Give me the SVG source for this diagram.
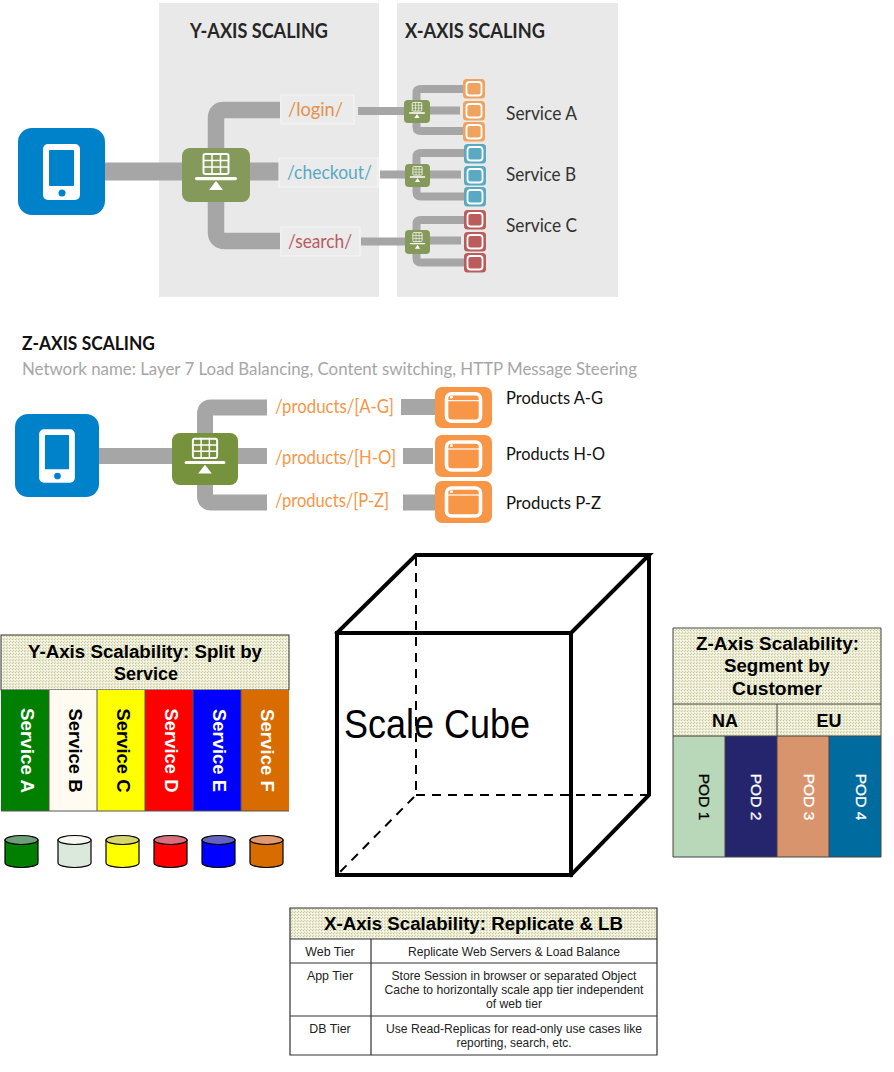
<svg xmlns="http://www.w3.org/2000/svg" xmlns:xlink="http://www.w3.org/1999/xlink" width="894" height="1072" viewBox="0 0 894 1072">
<style>
text{font-family:"Liberation Sans",Arial,sans-serif}
.cal{font-family:Lato,"Open Sans",sans-serif}
.h{font-weight:700;fill:#262626;font-size:20px}
.svc{fill:#333;font-size:18.500px}
.prod{fill:#111;font-size:17px}
.o{fill:#f79646}
.lbl{font-size:19px}
.pipe{fill:none;stroke:#a6a6a6;stroke-linejoin:round}
.box{fill:#ebebeb;stroke:#f6f6f6}
.t{font-weight:700;font-size:18px;text-anchor:middle;fill:#000}
.sv{font-weight:700;font-size:18px;text-anchor:middle}
.pod{font-size:15.500px;text-anchor:middle;stroke-width:.3px}
.r{font-size:12.400px;text-anchor:middle;fill:#222}
.line{stroke:#333;stroke-width:1.500;fill:none}
.cube{stroke:#000;stroke-width:4;fill:none;stroke-linecap:square}
.dash{stroke:#000;stroke-width:2;fill:none;stroke-dasharray:9 7}
.cyl{stroke:#000;stroke-width:1.200}
</style>
<defs>
<pattern id="dither" width="3" height="3" patternUnits="userSpaceOnUse">
<rect width="3" height="3" fill="#eeeed6"/>
<rect x="0" y="0" width="1" height="1" fill="#c6c69a"/>
<rect x="2" y="1" width="1" height="1" fill="#ffffff"/>
<rect x="1" y="2" width="1" height="1" fill="#d2d2aa"/>
</pattern>
<symbol id="lbGlyph" viewBox="0 0 68 54" preserveAspectRatio="none">
<rect x="21.500" y="6" width="25" height="20" rx="2" fill="none" stroke="#fff" stroke-width="2"/>
<path d="M21 12.500H47M21 19H47M30 5V26M38.500 5V26" stroke="#fff" stroke-width="1.500" fill="none"/>
<rect x="13" y="29" width="42" height="3.200" rx="1.600" fill="#fff"/>
<path d="M34 33L41 42H27Z" fill="#fff"/>
</symbol>
<symbol id="phone" viewBox="0 0 87 87" preserveAspectRatio="none">
<rect x="25" y="16" width="37" height="56" rx="5" fill="#fff"/>
<rect x="31" y="22" width="25" height="36" rx="1" fill="#0082ca"/>
<circle cx="44" cy="65" r="3.500" fill="#0082ca"/>
</symbol>
<symbol id="win" viewBox="0 0 57 42" preserveAspectRatio="none">
<rect x="11.500" y="7" width="34" height="28" rx="5" fill="none" stroke="#fff" stroke-width="3.600"/>
<path d="M13 14H44" stroke="#fff" stroke-width="1.200"/>
<circle cx="16.500" cy="10.500" r="1.500" fill="#fff"/>
</symbol>
</defs>

<g id="panel-y"><rect x="159" y="3" width="220" height="294" fill="#e9e9e9"/><text class="cal h" x="190" y="38" textLength="138" lengthAdjust="spacingAndGlyphs">Y-AXIS SCALING</text></g>
<g id="panel-x"><rect x="397" y="3" width="221" height="294" fill="#e9e9e9"/><text class="cal h" x="405" y="38" textLength="140" lengthAdjust="spacingAndGlyphs">X-AXIS SCALING</text></g>

<g id="connectors">
<path class="pipe" stroke-width="18" d="M105 171.500H190"/>
<path class="pipe" stroke-width="16.500" d="M280 110H224Q216 110 216 118V232Q216 241 225 241H280"/>
<path class="pipe" stroke-width="18" d="M245 171.500H279"/>
<path class="pipe" stroke-width="8" d="M358 111H410M380 174.500H410M361 241.500H410"/>
<path class="pipe" stroke-width="8" d="M464 89H421Q416.500 89 416.500 93V127Q416.500 131 421 131H464M425 110.500H460"/>
<path class="pipe" stroke-width="8" d="M465 153H421Q416.500 153 416.500 157V192Q416.500 196.500 421 196.500H465M425 174.500H461"/>
<path class="pipe" stroke-width="8" d="M465 220H421Q416.500 220 416.500 224V258Q416.500 262.500 421 262.500H465M425 240.500H461"/>
<path class="pipe" stroke-width="16" d="M99 456H180"/>
<path class="pipe" stroke-width="16" d="M267 407.500H211Q205 407.500 205 414V496Q205 502.500 211 502.500H267M230 456H267"/>
<path class="pipe" stroke-width="16" d="M401 407H437M403 456H433M403 502.500H437"/>
</g>

<g id="phone-top"><rect x="18" y="128" width="87" height="87" rx="14" fill="#0082ca"/><use xlink:href="#phone" href="#phone" x="18" y="128" width="87" height="87"/></g>
<g id="lb-y"><rect x="182" y="148" width="68" height="54" rx="8" fill="#85995a"/><use xlink:href="#lbGlyph" href="#lbGlyph" x="182" y="148" width="68" height="54"/></g>

<g id="route-login"><rect class="box" x="281" y="95" width="73" height="29"/><text class="cal lbl" x="288" y="116" fill="#e3914f" textLength="55" lengthAdjust="spacingAndGlyphs">/login/</text></g>
<g id="route-checkout"><rect class="box" x="279" y="158" width="99" height="29"/><text class="cal lbl" x="287" y="179" fill="#5aa9c2" textLength="85" lengthAdjust="spacingAndGlyphs">/checkout/</text></g>
<g id="route-search"><rect class="box" x="281" y="227" width="79" height="29"/><text class="cal lbl" x="288" y="248" fill="#b85c5c" textLength="64" lengthAdjust="spacingAndGlyphs">/search/</text></g>

<g id="lb-a"><rect x="404" y="100" width="26" height="23" rx="4" fill="#85995a"/><use xlink:href="#lbGlyph" href="#lbGlyph" x="404" y="100" width="26" height="23"/></g>
<g id="lb-b"><rect x="405" y="164" width="25" height="23" rx="4" fill="#85995a"/><use xlink:href="#lbGlyph" href="#lbGlyph" x="405" y="164" width="25" height="23"/></g>
<g id="lb-c"><rect x="405" y="230" width="25" height="24" rx="4" fill="#85995a"/><use xlink:href="#lbGlyph" href="#lbGlyph" x="405" y="230" width="25" height="24"/></g>

<g id="service-a">
<rect x="463" y="79" width="22" height="19.500" rx="3.500" fill="#f0a35e"/><rect x="466.500" y="82" width="15" height="13.500" rx="3" fill="#f0a35e" stroke="#fff" stroke-width="1.800"/>
<rect x="463" y="101" width="22" height="19.500" rx="3.500" fill="#f0a35e"/><rect x="466.500" y="104" width="15" height="13.500" rx="3" fill="#f0a35e" stroke="#fff" stroke-width="1.800"/>
<rect x="463" y="122" width="22" height="19.500" rx="3.500" fill="#f0a35e"/><rect x="466.500" y="125" width="15" height="13.500" rx="3" fill="#f0a35e" stroke="#fff" stroke-width="1.800"/>
<text class="cal svc" x="506" y="120" textLength="71" lengthAdjust="spacingAndGlyphs">Service A</text>
</g>
<g id="service-b">
<rect x="464" y="144" width="22" height="19.500" rx="3.500" fill="#5aa9c2"/><rect x="467.500" y="147" width="15" height="13.500" rx="3" fill="#5aa9c2" stroke="#fff" stroke-width="1.800"/>
<rect x="464" y="166" width="22" height="19.500" rx="3.500" fill="#5aa9c2"/><rect x="467.500" y="169" width="15" height="13.500" rx="3" fill="#5aa9c2" stroke="#fff" stroke-width="1.800"/>
<rect x="464" y="187" width="22" height="19.500" rx="3.500" fill="#5aa9c2"/><rect x="467.500" y="190" width="15" height="13.500" rx="3" fill="#5aa9c2" stroke="#fff" stroke-width="1.800"/>
<text class="cal svc" x="506" y="181" textLength="70" lengthAdjust="spacingAndGlyphs">Service B</text>
</g>
<g id="service-c">
<rect x="464" y="210" width="22" height="19.500" rx="3.500" fill="#bc5b5b"/><rect x="467.500" y="213" width="15" height="13.500" rx="3" fill="#bc5b5b" stroke="#fff" stroke-width="1.800"/>
<rect x="464" y="232" width="22" height="19.500" rx="3.500" fill="#bc5b5b"/><rect x="467.500" y="235" width="15" height="13.500" rx="3" fill="#bc5b5b" stroke="#fff" stroke-width="1.800"/>
<rect x="464" y="253" width="22" height="19.500" rx="3.500" fill="#bc5b5b"/><rect x="467.500" y="256" width="15" height="13.500" rx="3" fill="#bc5b5b" stroke="#fff" stroke-width="1.800"/>
<text class="cal svc" x="506" y="232" textLength="71" lengthAdjust="spacingAndGlyphs">Service C</text>
</g>

<g id="z-heading">
<text class="cal" x="22" y="350" font-size="18" font-weight="700" fill="#111" textLength="133" lengthAdjust="spacingAndGlyphs">Z-AXIS SCALING</text>
<text class="cal" x="22" y="375" font-size="17" fill="#a6a6a6" textLength="615" lengthAdjust="spacingAndGlyphs">Network name: Layer 7 Load Balancing, Content switching, HTTP Message Steering</text>
</g>

<g id="phone-z"><rect x="15" y="414" width="84" height="83" rx="13" fill="#0082ca"/><use xlink:href="#phone" href="#phone" x="15" y="414" width="84" height="83"/></g>
<g id="lb-z"><rect x="172" y="433" width="66" height="52" rx="8" fill="#76923c"/><use xlink:href="#lbGlyph" href="#lbGlyph" x="172" y="433" width="66" height="52"/></g>

<g id="route-ag"><text class="cal lbl o" x="275" y="413" textLength="119" lengthAdjust="spacingAndGlyphs">/products/[A-G]</text></g>
<g id="route-ho"><text class="cal lbl o" x="275" y="464" textLength="121" lengthAdjust="spacingAndGlyphs">/products/[H-O]</text></g>
<g id="route-pz"><text class="cal lbl o" x="275" y="507" textLength="114" lengthAdjust="spacingAndGlyphs">/products/[P-Z]</text></g>

<g id="products-ag"><rect x="435" y="387" width="57" height="41" rx="7" fill="#f79646"/><use xlink:href="#win" href="#win" x="435" y="387" width="57" height="41"/><text class="cal prod" x="506" y="404" textLength="97" lengthAdjust="spacingAndGlyphs">Products A-G</text></g>
<g id="products-ho"><rect x="435" y="435" width="57" height="42" rx="7" fill="#f79646"/><use xlink:href="#win" href="#win" x="435" y="435" width="57" height="42"/><text class="cal prod" x="506" y="460" textLength="99" lengthAdjust="spacingAndGlyphs">Products H-O</text></g>
<g id="products-pz"><rect x="435" y="481" width="57" height="42" rx="7" fill="#f79646"/><use xlink:href="#win" href="#win" x="435" y="481" width="57" height="42"/><text class="cal prod" x="506" y="509" textLength="95" lengthAdjust="spacingAndGlyphs">Products P-Z</text></g>

<g id="y-table">
<rect x="1" y="635" width="288" height="55" fill="url(#dither)" stroke="#333" stroke-width="1"/>
<text class="t" x="145" y="658" textLength="234" lengthAdjust="spacingAndGlyphs">Y-Axis Scalability: Split by</text>
<text class="t" x="146" y="680">Service</text>
<rect x="1" y="690" width="48" height="121" fill="#007f00"/>
<rect x="49" y="690" width="48" height="121" fill="#fffbf0"/>
<rect x="97" y="690" width="48" height="121" fill="#ffff00"/>
<rect x="145" y="690" width="48" height="121" fill="#ff0000"/>
<rect x="193" y="690" width="48" height="121" fill="#0000ff"/>
<rect x="241" y="690" width="48" height="121" fill="#d96c00"/>
<path d="M49 690V811M97 690V811M145 690V811M193 690V811M241 690V811M1 811H289" stroke="#555" stroke-width="1" fill="none"/>
<text class="sv" fill="#fff" transform="translate(21 750.500) rotate(90)" textLength="85" lengthAdjust="spacingAndGlyphs">Service A</text>
<text class="sv" fill="#000" transform="translate(68.500 750.500) rotate(90)" textLength="84" lengthAdjust="spacingAndGlyphs">Service B</text>
<text class="sv" fill="#000" transform="translate(117 750.500) rotate(90)" textLength="84" lengthAdjust="spacingAndGlyphs">Service C</text>
<text class="sv" fill="#fff" transform="translate(165 750.500) rotate(90)" textLength="84" lengthAdjust="spacingAndGlyphs">Service D</text>
<text class="sv" fill="#fff" transform="translate(213 750.500) rotate(90)" textLength="83" lengthAdjust="spacingAndGlyphs">Service E</text>
<text class="sv" fill="#fff" transform="translate(261 750.500) rotate(90)" textLength="83" lengthAdjust="spacingAndGlyphs">Service F</text>
</g>

<g id="databases">
<g class="cyl"><path d="M5 840V863A16.500 4.500 0 0 0 38 863V840Z" fill="#007f00"/><ellipse cx="21.500" cy="840" rx="16.500" ry="4.500" fill="#6f9f78"/></g>
<g class="cyl"><path d="M58 840V863A16.500 4.500 0 0 0 91 863V840Z" fill="#dbe8dc"/><ellipse cx="74.500" cy="840" rx="16.500" ry="4.500" fill="#f8f8f2"/></g>
<g class="cyl"><path d="M106 840V863A16.500 4.500 0 0 0 139 863V840Z" fill="#ffff00"/><ellipse cx="122.500" cy="840" rx="16.500" ry="4.500" fill="#d6d670"/></g>
<g class="cyl"><path d="M154 840V863A16.500 4.500 0 0 0 187 863V840Z" fill="#ff0000"/><ellipse cx="170.500" cy="840" rx="16.500" ry="4.500" fill="#d9707c"/></g>
<g class="cyl"><path d="M202 840V863A16.500 4.500 0 0 0 235 863V840Z" fill="#0000ff"/><ellipse cx="218.500" cy="840" rx="16.500" ry="4.500" fill="#6464c0"/></g>
<g class="cyl"><path d="M250 840V863A16.500 4.500 0 0 0 283 863V840Z" fill="#d96c00"/><ellipse cx="266.500" cy="840" rx="16.500" ry="4.500" fill="#e09a72"/></g>
</g>

<g id="scale-cube">
<path class="dash" d="M416 557V795M416 795H648M414 797L339 873"/>
<path class="cube" d="M337 633H571V875H337ZM337 633L416 555H649L571 633M649 555V795L571 875"/>
<text x="344" y="738" font-size="41" fill="#000" textLength="186" lengthAdjust="spacingAndGlyphs">Scale Cube</text>
</g>

<g id="z-table">
<rect x="673" y="628" width="208" height="76" fill="url(#dither)"/>
<rect x="673" y="704" width="208" height="32" fill="url(#dither)"/>
<rect x="673" y="736" width="52" height="121" fill="#b9d7b9"/>
<rect x="725" y="736" width="52" height="121" fill="#25256e"/>
<rect x="777" y="736" width="52" height="121" fill="#d8956d"/>
<rect x="829" y="736" width="52" height="121" fill="#006b9f"/>
<path d="M673 628H881V857H673ZM673 704H881M673 736H881M777 704V857M725 736V857M829 736V857" stroke="#444" stroke-width="1" fill="none"/>
<text class="t" x="777.500" y="650" textLength="163" lengthAdjust="spacingAndGlyphs">Z-Axis Scalability:</text>
<text class="t" x="777" y="672" textLength="106" lengthAdjust="spacingAndGlyphs">Segment by</text>
<text class="t" x="777" y="695" textLength="90" lengthAdjust="spacingAndGlyphs">Customer</text>
<text class="t" x="725" y="727">NA</text>
<text class="t" x="829" y="727">EU</text>
<text class="pod" fill="#000" stroke="#000" transform="translate(699 797) rotate(90)">POD 1</text>
<text class="pod" fill="#fff" stroke="#fff" transform="translate(751 797) rotate(90)">POD 2</text>
<text class="pod" fill="#fff" stroke="#fff" transform="translate(804 797) rotate(90)">POD 3</text>
<text class="pod" fill="#fff" stroke="#fff" transform="translate(856 797) rotate(90)">POD 4</text>
</g>

<g id="x-table">
<rect x="290" y="908" width="367" height="31" fill="url(#dither)"/>
<path class="line" d="M290 908H657V1055H290ZM290 939H657M290 963H657M290 1016H657M371 939V1055" style="stroke-width:1.200px"/>
<text class="t" x="473.500" y="930" textLength="299" lengthAdjust="spacingAndGlyphs">X-Axis Scalability: Replicate &amp; LB</text>
<text class="r" x="330" y="956">Web Tier</text>
<text class="r" x="514" y="956" textLength="212" lengthAdjust="spacingAndGlyphs">Replicate Web Servers &amp; Load Balance</text>
<text class="r" x="330" y="980">App Tier</text>
<text class="r" x="514" y="980" textLength="245" lengthAdjust="spacingAndGlyphs">Store Session in browser or separated Object</text>
<text class="r" x="514" y="994" textLength="259" lengthAdjust="spacingAndGlyphs">Cache to horizontally scale app tier independent</text>
<text class="r" x="514" y="1008" textLength="56" lengthAdjust="spacingAndGlyphs">of web tier</text>
<text class="r" x="330" y="1033">DB Tier</text>
<text class="r" x="514" y="1033" textLength="256" lengthAdjust="spacingAndGlyphs">Use Read-Replicas for read-only use cases like</text>
<text class="r" x="514" y="1047" textLength="115" lengthAdjust="spacingAndGlyphs">reporting, search, etc.</text>
</g>
</svg>
